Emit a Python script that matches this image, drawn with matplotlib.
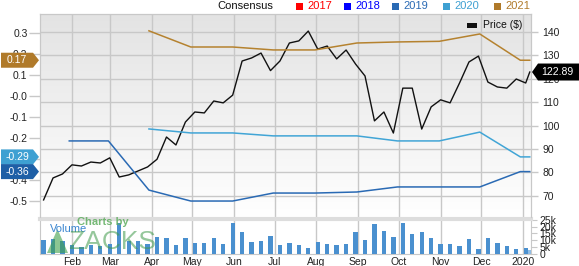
import numpy as np
import pandas as pd
import matplotlib
matplotlib.use('Agg')
import matplotlib.pyplot as plt
import matplotlib.dates as mdates
from matplotlib.colors import LinearSegmentedColormap
from matplotlib.patches import Polygon, Rectangle
from matplotlib.transforms import IdentityTransform
from matplotlib.ticker import FuncFormatter, MultipleLocator

plt.rcParams['font.family'] = ['Liberation Sans', 'DejaVu Sans']

# weekly closing price and volume (k)
price_dates = list(pd.date_range('2019-01-11', '2020-01-03', freq='7D')) + [pd.Timestamp('2020-01-06')]
price = [68.2, 77.6, 79.3, 83.2, 82.7, 84.4, 84.0, 86.2, 78.0, 78.9,
         80.6, 82.3, 85.6, 95.1, 91.7, 101.5, 105.8, 105.4, 110.5, 109.7,
         113.0, 127.6, 128.9, 131.0, 123.5, 127.6, 135.3, 136.2, 140.4, 132.7,
         134.0, 128.5, 132.3, 126.3, 121.2, 102.0, 105.8, 96.8, 116.0, 116.0,
         98.5, 108.0, 111.0, 109.7, 118.2, 127.2, 129.7, 118.6, 116.5, 116.0,
         119.9, 118.2, 122.89]
volume = [10.4, 11.0, 9.5, 6.2, 5.1, 6.2, 6.0, 7.4, 22.5, 9.7,
          9.7, 7.4, 12.7, 12.0, 6.7, 11.6, 8.1, 8.1, 12.0, 7.4,
          22.9, 16.0, 8.6, 9.7, 13.2, 6.7, 7.9, 6.2, 4.6, 8.6,
          7.4, 6.7, 7.4, 16.0, 10.4, 22.0, 17.1, 12.7, 22.9, 14.4,
          16.0, 11.6, 7.4, 7.4, 6.0, 10.9, 3.9, 11.3, 7.9, 6.0,
          3.9, 4.6, 3.2]

# consensus EPS estimates
cons_dates = pd.to_datetime(['2019-01-30', '2019-02-28', '2019-03-30', '2019-04-30',
                             '2019-05-31', '2019-06-30', '2019-07-31', '2019-08-31',
                             '2019-09-30', '2019-10-31', '2019-11-30', '2019-12-30',
                             '2020-01-06'])
cons_2019 = [-0.214, -0.214, -0.448, -0.50, -0.50, -0.462, -0.462, -0.457,
             -0.433, -0.433, -0.433, -0.36, -0.36]
cons_2020 = [-0.157, -0.176, -0.176, -0.19, -0.19, -0.19, -0.214, -0.214,
             -0.172, -0.29, -0.29]
cons_2021 = [0.31, 0.233, 0.233, 0.219, 0.219, 0.252, 0.257, 0.26,
             0.295, 0.17, 0.17]

legend_years = ['2017', '2018', '2019', '2020', '2021']
legend_colors = ['#ff0000', '#0000ff', '#2a6ab4', '#3ea0d2', '#b07a2a']
c2019, c2020, c2021 = '#2a6ab4', '#41a5d6', '#b5822f'

W, H = 579, 266
fig = plt.figure(figsize=(W / 100, H / 100), dpi=100)


def box(l, t, r, b):
    return [l / W, 1 - b / H, (r - l) / W, (b - t) / H]


gray = '#c8c8c8'
ax = fig.add_axes(box(40, 14, 531, 217))
axv = fig.add_axes(box(40, 219, 531, 254), sharex=ax)
axc = ax.twinx()

# background gradient
cmap = LinearSegmentedColormap.from_list('bg', ['#ffffff', '#e3e3e3'])
ax.imshow(np.linspace(0, 1, 200).reshape(-1, 1), cmap=cmap, aspect='auto',
          extent=[0, 1, 0, 1], transform=ax.transAxes, zorder=0, origin='lower')

ax.plot(price_dates, price, color='#111111', lw=1.0, zorder=3)
axc.plot(cons_dates, cons_2019, color=c2019, lw=1.1)
axc.plot(cons_dates[2:], cons_2020, color=c2020, lw=1.1)
axc.plot(cons_dates[2:], cons_2021, color=c2021, lw=1.1)

bar_colors = ['#4a90cf'] * (len(volume) - 1) + ['#8fbde6']
axv.bar(price_dates, volume, width=3.2, color=bar_colors, zorder=3)

xmin, xmax = pd.Timestamp('2019-01-08 08:00'), pd.Timestamp('2020-01-06 22:00')
ax.set_xlim(xmin, xmax)
ax.set_ylim(60.9, 147.7)
axc.set_ylim(-0.576, 0.390)
axv.set_ylim(0, 25.5)

# price axis on the right with grid
ax.yaxis.tick_right()
ax.yaxis.set_major_locator(MultipleLocator(10))
ax.set_yticks(range(70, 141, 10))
ax.tick_params(axis='y', which='both', direction='out', length=5, width=1,
               color=gray, labelsize=7.5, labelcolor='#222222', pad=3,
               left=False, labelleft=False, right=True, labelright=True)
ax.xaxis.set_major_locator(mdates.MonthLocator())
ax.tick_params(axis='x', length=0, labelbottom=False)
ax.grid(True, color=gray, lw=1)

axc.yaxis.tick_left()
axc.set_yticks(np.round(np.arange(-0.5, 0.31, 0.1), 1))
axc.yaxis.set_major_formatter(FuncFormatter(lambda v, p: f'{v:.1f}'))
axc.tick_params(axis='y', direction='out', length=8, width=1, color=gray,
                labelsize=7.5, labelcolor='#222222', pad=1,
                right=False, labelright=False, left=True, labelleft=True)

for a in (ax, axc):
    for s in a.spines.values():
        s.set_color(gray)
    a.spines['bottom'].set_visible(False)

# volume panel
axv.set_yticks([0, 5, 10, 15, 20, 25])
axv.yaxis.set_major_formatter(FuncFormatter(lambda v, p: '0' if v == 0 else f'{int(v)}k'))
axv.yaxis.tick_right()
axv.tick_params(axis='y', direction='out', length=4, color=gray, labelsize=7.5,
                labelcolor='#222222', pad=2)
axv.xaxis.set_major_locator(mdates.MonthLocator())


def month_label(v, p):
    d = mdates.num2date(v)
    return d.strftime('%Y') if d.month == 1 else d.strftime('%b')


axv.xaxis.set_major_formatter(FuncFormatter(month_label))
axv.tick_params(axis='x', length=0, labelsize=7.5, labelcolor='#222222', pad=2)
axv.grid(True, axis='x', color=gray, lw=1)
for s in axv.spines.values():
    s.set_color(gray)
axv.spines['top'].set_color('#dddddd')
axv.spines['top'].set_linewidth(3)

# watermark and volume label
fig.text(50 / W, 1 - 229 / H, 'Volume', color='#3a86d0', fontsize=8, va='center')
fig.text(77 / W, 1 - 222 / H, 'Charts by', color='#5fae5f', fontsize=8,
         fontweight='bold', va='center', alpha=0.85)
fig.text(68 / W, 1 - 242 / H, 'ZACKS', color='#3f9a4a', fontsize=19,
         va='center', alpha=0.55)
fig.add_artist(Polygon([(47, H - 253), (68, H - 253), (57.5, H - 229)],
                       closed=True, transform=IdentityTransform(),
                       facecolor='#3fa04a', alpha=0.6, edgecolor='none'))

# top legend
fig.text(217 / W, 1 - 6 / H, 'Consensus', fontsize=8, color='#111111', va='center')
sq_x = [296, 344, 392, 443, 494]
for x0, yr, col in zip(sq_x, legend_years, legend_colors):
    fig.add_artist(Rectangle((x0, H - 9.5), 7, 7, transform=IdentityTransform(),
                             facecolor=col, edgecolor='none'))
    fig.text((x0 + 11) / W, 1 - 6 / H, yr, fontsize=8, color=col, va='center')

# price legend
fig.add_artist(Rectangle((467, H - 28), 10, 5, transform=IdentityTransform(),
                         facecolor='#111111', edgecolor='none'))
fig.text(483 / W, 1 - 25.5 / H, 'Price ($)', fontsize=7.5, color='#111111', va='center')


# value tags
def left_tag(val, col):
    y = axc.transData.transform((0, val))[1]
    h = 7.5
    fig.add_artist(Polygon([(1, y - h), (33, y - h), (39, y), (33, y + h), (1, y + h)],
                           closed=True, transform=IdentityTransform(),
                           facecolor=col, edgecolor='none'))
    fig.text(17 / W, y / H, f'{val:.2f}', color='white', fontsize=7.5,
             ha='center', va='center')


left_tag(cons_2021[-1], '#b07a2a')
left_tag(cons_2020[-1], '#3ea0d2')
left_tag(cons_2019[-1], '#1e5fa6')

yp = ax.transData.transform((0, price[-1]))[1]
fig.add_artist(Polygon([(532, yp), (538, yp - 8.5), (579, yp - 8.5), (579, yp + 8.5), (538, yp + 8.5)],
                       closed=True, transform=IdentityTransform(),
                       facecolor='#000000', edgecolor='none'))
fig.text(557 / W, yp / H, f'{price[-1]:.2f}', color='white', fontsize=7.5,
         ha='center', va='center')

fig.savefig('out.png', dpi=100)
